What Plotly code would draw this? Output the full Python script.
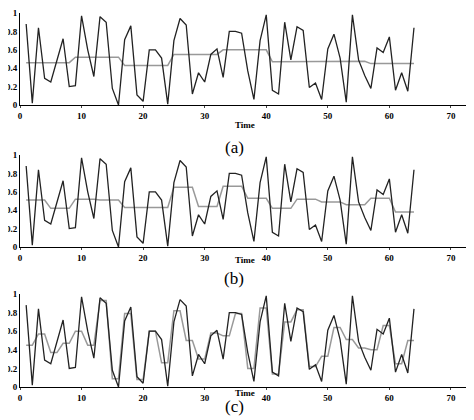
import plotly.graph_objects as go

t = list(range(1, 65))
original = [.88,.02,.84,.29,.25,.48,.72,.20,.21,.97,.60,.31,.96,.90,.18,.00,
            .71,.86,.11,.04,.60,.60,.51,.01,.70,.94,.87,.12,.35,.25,.55,.61,
            .30,.80,.80,.78,.37,.06,.70,.98,.16,.12,.90,.49,.85,.81,.19,.24,
            .06,.61,.77,.51,.03,.98,.49,.32,.18,.62,.57,.74,.16,.35,.15,.84]
seg_a = [.46,.52,.43,.55,.60,.47,.475,.45]          # 8-sample means
seg_b = [.51,.42,.52,.51,.43,.43,.65,.44,.66,.53,.42,.52,.49,.46,.53,.38]  # 4-sample
seg_c = [.45,.57,.37,.47,.60,.45,.93,.09,.79,.08,.60,.26,.82,.50,.30,.58,
         .55,.79,.20,.85,.14,.70,.83,.22,.33,.64,.51,.42,.40,.66,.25,.50]  # 2-sample

def expand(seg, n):
    out = []
    for v in seg:
        out += [v] * n
    return out

approx = [expand(seg_a, 8), expand(seg_b, 4), expand(seg_c, 2)]
captions = ["(a)", "(b)", "(c)"]
H, W = 420, 474
panels = [(5, 97), (147, 239), (286, 379)]
SERIF = "Liberation Serif, Times New Roman, serif"

fig = go.Figure()
tf = dict(family=SERIF, size=9, color="black", weight="bold")
for i, (top, bot) in enumerate(panels):
    xa = "x" if i == 0 else f"x{i+1}"
    ya = "y" if i == 0 else f"y{i+1}"
    fig.add_trace(go.Scatter(x=t, y=approx[i], mode="lines", xaxis=xa, yaxis=ya,
                             line=dict(color="#999999", width=1.5), showlegend=False))
    fig.add_trace(go.Scatter(x=t, y=original, mode="lines", xaxis=xa, yaxis=ya,
                             line=dict(color="#222222", width=1.3), showlegend=False))
    dom = [1 - bot / H, 1 - top / H]
    key = "" if i == 0 else str(i + 1)
    fig.layout["xaxis" + key] = dict(domain=[12 / W, 470 / W], range=[0, 74.4], anchor=ya,
                                     tickvals=list(range(0, 80, 10)), showgrid=False,
                                     zeroline=False, showline=True, linecolor="black",
                                     ticks="outside", ticklen=2, automargin=False,
                                     tickfont=tf)
    fig.layout["yaxis" + key] = dict(domain=dom, range=[0, 1.0], anchor=xa,
                                     tickvals=[0, .2, .4, .6, .8, 1],
                                     ticktext=["0", "0.2", "0.4", "0.6", "0.8", "1"],
                                     showgrid=False, zeroline=False, showline=True,
                                     linecolor="black", ticks="", automargin=False,
                                     tickfont=tf)
    fig.add_annotation(text="<b>Time</b>", x=237 / W, y=1 - (bot + 13) / H, xref="paper",
                       yref="paper", showarrow=False,
                       font=dict(family=SERIF, size=9, color="black"))
    fig.add_annotation(text=captions[i], x=226 / W, y=1 - (bot + 31) / H, xref="paper",
                       yref="paper", showarrow=False,
                       font=dict(family=SERIF, size=17, color="black"))

fig.update_layout(width=W, height=H, margin=dict(l=0, r=0, t=0, b=0),
                  plot_bgcolor="white", paper_bgcolor="white")
fig.write_html("out.html")
